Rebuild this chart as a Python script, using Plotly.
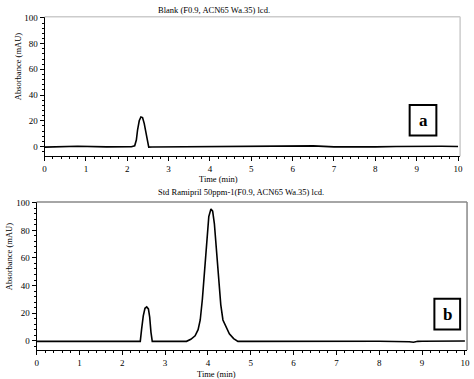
import plotly.graph_objects as go

# ---- data ----
blank_time = [0, 0.8, 1.5, 2.1, 2.18, 2.22, 2.25, 2.29, 2.33, 2.37, 2.41, 2.45, 2.49, 2.52,
              2.6, 3.0, 3.5, 4.0, 4.5, 5.0, 5.5, 6.0, 6.5, 7.0, 7.5, 8.0, 8.5, 9.0, 9.3, 9.6, 10.0]
blank_abs = [-0.5, 0.2, -0.3, -0.2, 0.5, 5, 13, 20, 23, 22.5, 18, 10, 2, -0.5,
             -0.4, -0.3, 0, -0.3, 0, 0, 0.3, 0.5, 0.5, -0.3, -0.4, -0.3, 0, 0.2, 0.5, 0.2, 0]

std_time = [0, 1, 2, 2.42, 2.45, 2.49, 2.53, 2.57, 2.61, 2.64, 2.67, 2.70, 3.0, 3.5, 3.6, 3.7,
            3.77, 3.82, 3.87, 3.92, 3.97, 4.02, 4.07, 4.11, 4.15, 4.2, 4.25, 4.3, 4.35, 4.42,
            4.5, 4.6, 4.7, 5, 6, 7, 7.3, 8, 8.7, 8.8, 8.9, 9, 10]
std_abs = [-0.5, -0.5, -0.5, -0.5, 8, 18, 23.5, 24.5, 23, 17, 6, -0.5, -0.5, -0.5, 1, 3.5,
           8, 15, 30, 50, 70, 90, 95.5, 94, 85, 65, 45, 26, 15, 10,
           5, 1.5, -0.5, -0.5, -0.5, -0.5, 0, -0.4, -0.8, -1.2, -0.5, -0.4, -0.3]

x_ticks = [0, 1, 2, 3, 4, 5, 6, 7, 8, 9, 10]
y_ticks = [0, 20, 40, 60, 80, 100]
title_a = "Blank (F0.9, ACN65 Wa.35) lcd."
title_b = "Std Ramipril 50ppm-1(F0.9, ACN65 Wa.35) lcd."
panel_labels = ["a", "b"]

W, H = 474, 379
FONT = "Liberation Serif, Times New Roman, Times, serif"

def px(v):
    return v / W

def py(v):
    return 1 - v / H

fig = go.Figure()
fig.add_trace(go.Scatter(x=blank_time, y=blank_abs, mode="lines",
                         line=dict(color="black", width=1.6), xaxis="x", yaxis="y",
                         showlegend=False, hoverinfo="skip"))
fig.add_trace(go.Scatter(x=std_time, y=std_abs, mode="lines",
                         line=dict(color="black", width=1.6), xaxis="x2", yaxis="y2",
                         showlegend=False, hoverinfo="skip"))

tickfont = dict(family=FONT, size=9, color="black")
common_x = dict(range=[0, 10.05], tickvals=x_ticks, ticks="outside", ticklen=4,
                tickcolor="black", showline=True, linecolor="black", linewidth=1,
                showgrid=False, zeroline=False, tickfont=tickfont,
                minor=dict(dtick=0.2, ticks="outside", ticklen=2, tickcolor="black"))
common_y = dict(tickvals=y_ticks, ticks="outside", ticklen=4, tickcolor="black",
                showline=True, linecolor="black", linewidth=1, showgrid=False,
                zeroline=False, tickfont=tickfont,
                minor=dict(dtick=4, ticks="outside", ticklen=2, tickcolor="black"))

fig.update_layout(
    width=W, height=H, margin=dict(l=0, r=0, t=0, b=0),
    plot_bgcolor="white", paper_bgcolor="white",
    xaxis=dict(domain=[px(43), px(463)], anchor="y", **common_x),
    yaxis=dict(domain=[py(154), py(13)], range=[-7.7, 100.8], anchor="x", **common_y),
    xaxis2=dict(domain=[px(35), px(470)], anchor="y2", **common_x),
    yaxis2=dict(domain=[py(349.7), py(200)], range=[-6.8, 100.7], anchor="x2", **common_y),
)

shapes = []
for xr, yr, col in [("x domain", "y domain", "#cccccc"), ("x2 domain", "y2 domain", "#888888")]:
    shapes.append(dict(type="line", xref=xr, yref=yr, x0=0, x1=1, y0=1, y1=1,
                       line=dict(color=col, width=1.5)))
    shapes.append(dict(type="line", xref=xr, yref=yr, x0=1, x1=1, y0=0, y1=1,
                       line=dict(color=col, width=1.5)))
shapes.append(dict(type="rect", xref="paper", yref="paper", x0=px(412), x1=px(439),
                   y0=py(133), y1=py(102), line=dict(color="black", width=2)))
shapes.append(dict(type="rect", xref="paper", yref="paper", x0=px(437), x1=px(463),
                   y0=py(329), y1=py(298), line=dict(color="black", width=2)))
fig.update_layout(shapes=shapes)

textfont = dict(family=FONT, size=8.5, color="black")
ann = [
    dict(text=title_a, x=px(214), y=py(6), xref="paper", yref="paper", showarrow=False,
         font=textfont, xanchor="center", yanchor="middle"),
    dict(text=title_b, x=px(242), y=py(190.5), xref="paper", yref="paper", showarrow=False,
         font=textfont, xanchor="center", yanchor="middle"),
    dict(text="Time (min)", x=px(219), y=py(177), xref="paper", yref="paper", showarrow=False,
         font=textfont, xanchor="center", yanchor="middle"),
    dict(text="Time (min)", x=px(217), y=py(374), xref="paper", yref="paper", showarrow=False,
         font=textfont, xanchor="center", yanchor="middle"),
    dict(text="Absorbance (mAU)", x=px(17), y=py(63), xref="paper", yref="paper",
         showarrow=False, font=textfont, textangle=-90, xanchor="center", yanchor="middle"),
    dict(text="Absorbance (mAU)", x=px(7), y=py(255), xref="paper", yref="paper",
         showarrow=False, font=textfont, textangle=-90, xanchor="center", yanchor="middle"),
    dict(text="<b>" + panel_labels[0] + "</b>", x=px(425.5), y=py(118), xref="paper",
         yref="paper", showarrow=False, font=dict(family=FONT, size=17, color="black"),
         xanchor="center", yanchor="middle"),
    dict(text="<b>" + panel_labels[1] + "</b>", x=px(450), y=py(314), xref="paper",
         yref="paper", showarrow=False, font=dict(family=FONT, size=17, color="black"),
         xanchor="center", yanchor="middle"),
]
fig.update_layout(annotations=ann)

fig.write_html("out.html", config={"displayModeBar": False},
               post_script="document.body.style.margin='0';")
